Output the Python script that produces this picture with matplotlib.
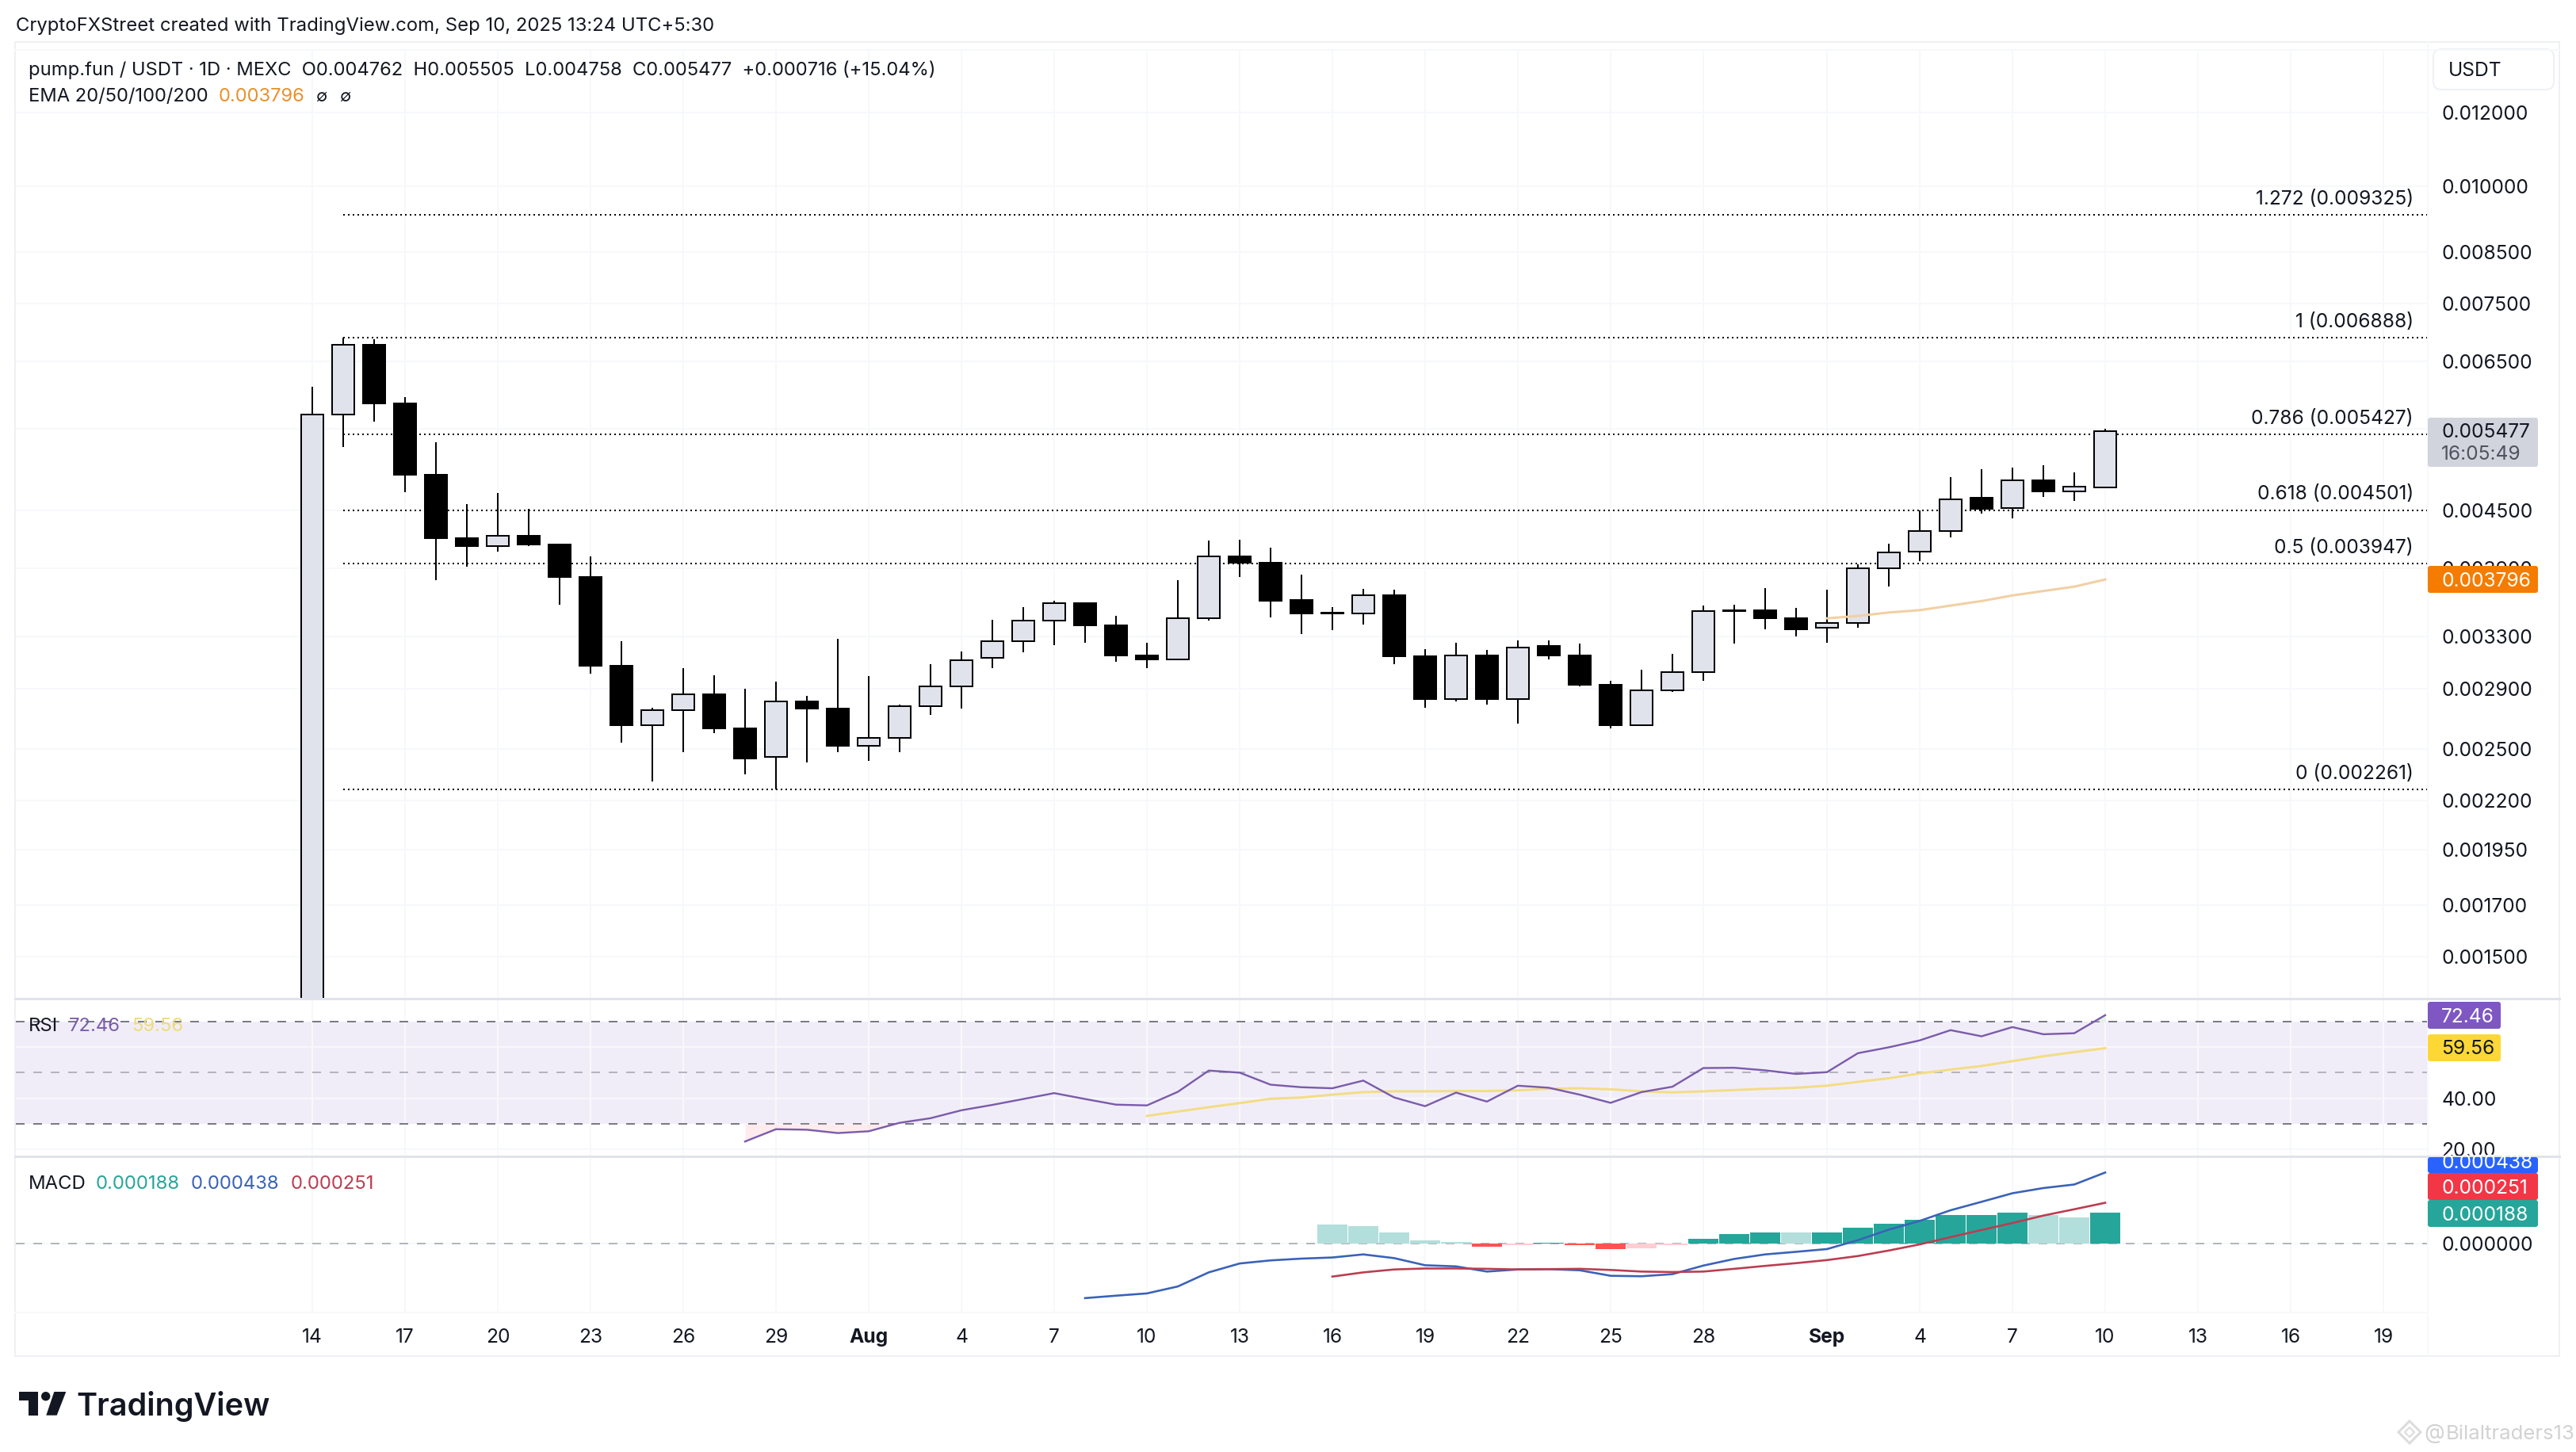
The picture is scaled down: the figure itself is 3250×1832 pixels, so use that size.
"""pump.fun / USDT daily chart with fib levels, EMA, RSI and MACD panes."""

import numpy as np
import matplotlib
matplotlib.use("Agg")
import matplotlib.pyplot as plt
from matplotlib.patches import Circle, FancyBboxPatch, Polygon, Rectangle
from matplotlib.ticker import NullLocator

W, H = 3250, 1832
plt.rcParams['font.family'] = ['Inter', 'DejaVu Sans']

# Daily candles, first one is Jul 14 (its open is far below the visible range)
OPENS = [0.00120, 0.00570, 0.00677, 0.00586, 0.00491, 0.00420, 0.00412, 0.00423, 0.00414, 0.00382,
         0.00307, 0.00265, 0.00275, 0.00286, 0.00263, 0.00245, 0.00281, 0.00276, 0.00252, 0.00257,
         0.00278, 0.00292, 0.00313, 0.00326, 0.00343, 0.00358, 0.00339, 0.00315, 0.00312, 0.00345,
         0.00402, 0.00396, 0.00361, 0.00350, 0.00349, 0.00365, 0.00314, 0.00283, 0.00315, 0.00283,
         0.00322, 0.00315, 0.00293, 0.00265, 0.00289, 0.00302, 0.00352, 0.00352, 0.00345, 0.00337,
         0.00341, 0.00390, 0.00407, 0.00428, 0.00464, 0.00453, 0.00485, 0.00472, 0.004762]
HIGHS = [0.00610, 0.006888, 0.00686, 0.00595, 0.00532, 0.00457, 0.00470, 0.00452, 0.00415, 0.00402,
         0.00326, 0.00277, 0.00305, 0.00300, 0.00290, 0.00295, 0.00285, 0.00328, 0.00299, 0.00279,
         0.00308, 0.00318, 0.00344, 0.00355, 0.00360, 0.00359, 0.00347, 0.00325, 0.00379, 0.00418,
         0.00419, 0.00411, 0.00384, 0.00355, 0.00371, 0.00370, 0.00320, 0.00325, 0.00319, 0.00327,
         0.00327, 0.00324, 0.00296, 0.00304, 0.00316, 0.00356, 0.00357, 0.00372, 0.00354, 0.00370,
         0.00394, 0.00415, 0.00450, 0.00489, 0.00498, 0.00500, 0.00503, 0.00494, 0.005505]
LOWS = [0.00110, 0.00526, 0.00560, 0.00471, 0.00379, 0.00392, 0.00407, 0.00412, 0.00357, 0.00301,
        0.00254, 0.00231, 0.00248, 0.00260, 0.00235, 0.002261, 0.00242, 0.00248, 0.00243, 0.00248,
        0.00272, 0.00276, 0.00305, 0.00317, 0.00323, 0.00325, 0.00310, 0.00305, 0.00311, 0.00343,
        0.00382, 0.00346, 0.00332, 0.00335, 0.00340, 0.00308, 0.00277, 0.00281, 0.00279, 0.00266,
        0.00312, 0.00292, 0.00263, 0.00265, 0.00288, 0.00296, 0.00324, 0.00336, 0.00330, 0.00325,
        0.00337, 0.00373, 0.00397, 0.00421, 0.00447, 0.00441, 0.00465, 0.00461, 0.004758]
CLOSES = [0.00570, 0.00677, 0.00586, 0.00491, 0.00420, 0.00412, 0.00423, 0.00414, 0.00382, 0.00307,
          0.00265, 0.00275, 0.00286, 0.00263, 0.00244, 0.00281, 0.00276, 0.00252, 0.00257, 0.00278,
          0.00292, 0.00311, 0.00326, 0.00343, 0.00358, 0.00339, 0.00315, 0.00312, 0.00345, 0.00402,
          0.00396, 0.00360, 0.00349, 0.00349, 0.00365, 0.00314, 0.00283, 0.00315, 0.00283, 0.00321,
          0.00315, 0.00293, 0.00265, 0.00289, 0.00302, 0.00351, 0.00351, 0.00345, 0.00336, 0.00341,
          0.00390, 0.00406, 0.00428, 0.00463, 0.00452, 0.00485, 0.00472, 0.00477, 0.005477]

EMA_START = 49
EMA_VALUES = [0.00345, 0.00347, 0.00350, 0.00352, 0.00356, 0.00360, 0.00365, 0.00369, 0.00373, 0.003796]

FIB_PRICES = [0.009325, 0.006888, 0.005427, 0.004501, 0.003947, 0.002261]
FIB_NAMES = ['1.272', '1', '0.786', '0.618', '0.5', '0']

PRICE_TICKS = [0.012, 0.010, 0.0085, 0.0075, 0.0065, 0.0055, 0.0045, 0.0039, 0.0033, 0.0029,
               0.0025, 0.0022, 0.00195, 0.0017, 0.0015]

RSI_START = 14
RSI_VALUES = [23.1, 27.9, 27.7, 26.4, 27.1, 30.4, 32.2, 35.3, 37.4, 39.7, 42.0, 39.7, 37.5, 37.2, 42.5,
              50.8, 50.0, 45.3, 44.3, 43.9, 46.9, 40.3, 36.9, 42.2, 38.7, 44.9, 44.1, 41.4, 38.2, 42.4,
              44.5, 51.8, 51.9, 50.9, 49.5, 50.2, 57.6, 59.9, 62.6, 66.6, 64.2, 67.8, 65.0, 65.4, 72.46]
RSI_MA_START = 27
RSI_MA_VALUES = [33.1, 34.8, 36.5, 38.1, 39.8, 40.3, 41.4, 42.4, 42.7, 42.7, 42.8, 42.8, 43.1, 43.7, 43.9,
                 43.5, 42.7, 42.3, 42.7, 43.2, 43.7, 44.1, 44.9, 46.4, 47.8, 49.7, 51.2, 52.6, 54.5,
                 56.4, 58.0, 59.56]

# MACD values in millionths
MACD_START = 25
MACD_VALUES = [-338, -323, -309, -266, -179, -124, -105, -94, -87, -68, -91, -135, -142, -174, -161, -159,
               -166, -200, -203, -190, -137, -96, -68, -52, -35, 20, 85, 139, 205, 257, 310, 342, 364, 438]
SIGNAL_START = 33
SIGNAL_VALUES = [-205, -179, -161, -155, -155, -157, -161, -159, -157, -164, -174, -177, -174, -157, -139,
                 -122, -103, -78, -44, -6, 39, 83, 126, 172, 211, 251]
HIST_START = 33
HIST_VALUES = [116, 107, 68, 18, 9, -20, -9, 4, -13, -33, -28, -13, 28, 57, 69, 68, 69, 98, 122, 146,
               175, 176, 190, 176, 163, 188]

TICK_DAYS = [0, 3, 6, 9, 12, 15, 18, 21, 24, 27, 30, 33, 36, 39, 42, 45, 49, 52, 55, 58, 61, 64, 67]
TICK_LABELS = ['14', '17', '20', '23', '26', '29', 'Aug', '4', '7', '10', '13', '16', '19', '22', '25',
               '28', 'Sep', '4', '7', '10', '13', '16', '19']

UP_FILL = '#e0e3eb'
TEXT = '#131722'
GRID = '#f7f8fb'
FRAME = '#eef0f5'
SEP = '#e0e3eb'
TEAL = '#26a69a'
LIGHT_TEAL = '#b2dfdb'
RED = '#ff5252'
LIGHT_RED = '#ffcdd2'
FS = 17.7
PX = 72 / 100  # one pixel in points at dpi=100

PANE_LEFT, PANE_RIGHT = 20, 3063
DAY0_X, DAY_W = 394, 39
XLIM = ((PANE_LEFT - DAY0_X) / DAY_W, (PANE_RIGHT - DAY0_X) / DAY_W)


def addPane(fig, top, bottom):
    """Axes placed by pixel rows, sharing the same day scale."""
    ax = fig.add_axes([PANE_LEFT / W, 1 - bottom / H, (PANE_RIGHT - PANE_LEFT) / W, (bottom - top) / H])
    ax.set_xlim(*XLIM)
    ax.yaxis.tick_right()
    ax.tick_params(axis='both', length=0, labelsize=FS, labelcolor=TEXT)
    ax.tick_params(axis='y', pad=17 * PX)
    ax.set_xticks(TICK_DAYS)
    ax.set_xticklabels([])
    ax.grid(True, color=GRID, lw=2 * PX)
    ax.set_axisbelow(True)
    for spine in ax.spines.values():
        spine.set_visible(False)
    return ax


def drawCandles(ax):
    days = np.arange(len(OPENS))
    opens, closes = np.array(OPENS), np.array(CLOSES)
    bottoms = np.minimum(opens, closes)
    tops = np.maximum(opens, closes)
    is_up = closes >= opens
    ax.vlines(days, LOWS, HIGHS, color='black', lw=2 * PX, zorder=3)
    ax.bar(days, tops - bottoms, bottom=bottoms, width=0.72, color=[UP_FILL if u else 'black' for u in is_up],
           edgecolor='black', linewidth=2 * PX, zorder=4)


def drawMain(ax):
    ax.set_yscale('log')
    # log scale calibrated on the 0.012 and 0.010 grid rows
    ax.set_ylim(0.001354, 0.0140)
    ax.yaxis.set_minor_locator(NullLocator())
    ax.set_yticks(PRICE_TICKS)
    ax.set_yticklabels([f'{p:.6f}' for p in PRICE_TICKS])
    ax.yaxis.set_minor_formatter(plt.NullFormatter())

    for name, price in zip(FIB_NAMES, FIB_PRICES):
        ax.plot([1, XLIM[1]], [price, price], color='black', lw=2 * PX, ls=(0, (1, 2)), zorder=2)
        ax.annotate(f'{name} ({price:.6f})', xy=(1, price), xycoords=ax.get_yaxis_transform(),
                    xytext=(-18 * PX, 20 * PX), textcoords='offset points', ha='right', va='center',
                    fontsize=FS, color=TEXT)

    drawCandles(ax)
    ema_days = np.arange(EMA_START, EMA_START + len(EMA_VALUES))
    ax.plot(ema_days, EMA_VALUES, color='#f2cfa3', lw=3 * PX, zorder=5)


def drawRsi(ax):
    ax.set_ylim(17.6, 78.6)
    ax.set_yticks([20, 40, 60])
    ax.set_yticklabels(['20.00', '40.00', '60.00'])
    ax.axhspan(30, 70, color='#7e57c2', alpha=0.1, lw=0, zorder=0)
    for level, col in zip([70, 50, 30], ['#787b86', '#b2b5be', '#787b86']):
        ax.axhline(level, color=col, lw=2 * PX, ls=(0, (5.5, 5.5)), zorder=1)

    rsi_days = np.arange(RSI_START, RSI_START + len(RSI_VALUES))
    rsi = np.array(RSI_VALUES)
    ax.fill_between(rsi_days, rsi, 30, where=rsi < 30, interpolate=True, color='#ffcdd2', alpha=0.4, lw=0)
    ax.fill_between(rsi_days, rsi, 70, where=rsi > 70, interpolate=True, color='#c8e6c9', alpha=0.5, lw=0)
    ma_days = np.arange(RSI_MA_START, RSI_MA_START + len(RSI_MA_VALUES))
    ax.plot(ma_days, RSI_MA_VALUES, color='#f3dd85', lw=3 * PX, zorder=3)
    ax.plot(rsi_days, rsi, color='#7b5cab', lw=2.4 * PX, zorder=4)


def drawMacd(ax):
    ax.set_ylim(-427, 528)
    ax.set_yticks([0])
    ax.set_yticklabels(['0.000000'])
    ax.axhline(0, color='#b2b5be', lw=2 * PX, ls=(0, (5.5, 5.5)), zorder=1)

    hist_days = np.arange(HIST_START, HIST_START + len(HIST_VALUES))
    hist_colors = []
    prev = np.inf
    for val in HIST_VALUES:
        if val >= 0:
            hist_colors.append(TEAL if val > prev else LIGHT_TEAL)
        else:
            hist_colors.append(RED if val < prev else LIGHT_RED)
        prev = val
    ax.bar(hist_days, HIST_VALUES, width=0.95, color=hist_colors, lw=0, zorder=2)

    macd_days = np.arange(MACD_START, MACD_START + len(MACD_VALUES))
    signal_days = np.arange(SIGNAL_START, SIGNAL_START + len(SIGNAL_VALUES))
    ax.plot(macd_days, MACD_VALUES, color='#3a62b8', lw=2.6 * PX, zorder=3)
    ax.plot(signal_days, SIGNAL_VALUES, color='#bb3d50', lw=2.6 * PX, zorder=3)

    ax.set_xticklabels(TICK_LABELS)
    ax.tick_params(axis='x', pad=20 * PX)
    for lab, txt in zip(ax.get_xticklabels(), TICK_LABELS):
        if txt in ('Aug', 'Sep'):
            lab.set_fontweight('bold')


def valueBox(page, top, bottom, right, color, label, text_color='white', text_y=None):
    page.add_patch(FancyBboxPatch((PANE_RIGHT + 1, top + 1), right - PANE_RIGHT - 3, bottom - top - 2,
                                  boxstyle='round,pad=1,rounding_size=3', fc=color, ec='none', zorder=6))
    y = (top + bottom) / 2 if text_y is None else text_y
    txt = page.text(3080, y + 2, label, color=text_color, fontsize=FS, va='center', ha='left', zorder=7)
    return txt


def drawPage(page):
    """Everything that sits outside the panes, in image pixels."""
    page.set_xlim(0, W)
    page.set_ylim(H, 0)
    page.axis('off')

    # frame
    page.add_patch(Rectangle((19, 53), 3210, 1658, fc='none', ec=FRAME, lw=2 * PX))
    page.plot([19, 3229], [63, 63], color=GRID, lw=2 * PX)
    page.plot([PANE_RIGHT, PANE_RIGHT], [53, 1711], color=GRID, lw=2 * PX)
    page.plot([19, PANE_RIGHT], [1656, 1656], color=GRID, lw=2 * PX)
    page.plot([19, 3229], [1260, 1260], color=SEP, lw=3 * PX)
    page.plot([19, 3229], [1459, 1459], color=SEP, lw=3 * PX)

    page.text(20, 33, 'CryptoFXStreet created with TradingView.com, Sep 10, 2025 13:24 UTC+5:30',
              fontsize=17.2, color=TEXT, va='center')
    page.text(36, 88, 'pump.fun / USDT · 1D · MEXC  O0.004762  H0.005505  L0.004758  C0.005477  '
              '+0.000716 (+15.04%)', fontsize=17.1, color=TEXT, va='center')
    page.text(36, 122, 'EMA 20/50/100/200', fontsize=17.1, color=TEXT, va='center')
    page.text(276, 122, '0.003796', fontsize=17.1, color='#e8912d', va='center')
    page.text(398, 122, '∅', fontsize=15, color=TEXT, va='center')
    page.text(428, 122, '∅', fontsize=15, color=TEXT, va='center')

    # USDT button
    page.add_patch(FancyBboxPatch((3076, 68), 140, 39, boxstyle='round,pad=6,rounding_size=10',
                                  fc='white', ec=FRAME, lw=2 * PX))
    page.text(3089, 89, 'USDT', fontsize=FS, color=TEXT, va='center')

    # last value boxes
    valueBox(page, 527, 589, 3203, '#d1d4dc', '0.005477', TEXT, text_y=543)
    page.text(3080, 574, '16:05:49', fontsize=FS, color='#50535e', va='center', zorder=7)
    valueBox(page, 714, 748, 3203, '#f57c00', '0.003796', 'white')
    valueBox(page, 1264, 1298, 3156, '#7e57c2', '72.46', 'white')
    valueBox(page, 1305, 1339, 3156, '#fdd835', '59.56', TEXT)
    blue = valueBox(page, 1460, 1480, 3203, '#2962ff', '0.000438', 'white', text_y=1465)
    blue.set_clip_path(Rectangle((3063, 1460), 140, 20, transform=page.transData))
    valueBox(page, 1480, 1514, 3203, '#f23645', '0.000251', 'white')
    valueBox(page, 1514, 1548, 3203, '#26a69a', '0.000188', 'white')

    # pane legends
    page.text(36, 1295, 'RSI', fontsize=FS - 0.5, color=TEXT, va='center')
    page.text(87, 1295, '72.46', fontsize=FS - 0.5, color='#7b5cab', va='center')
    page.text(166, 1295, '59.56', fontsize=FS - 0.5, color='#eddc78', va='center')
    page.text(36, 1494, 'MACD', fontsize=FS - 0.5, color=TEXT, va='center')
    page.text(121, 1494, '0.000188', fontsize=FS - 0.5, color=TEAL, va='center')
    page.text(241, 1494, '0.000438', fontsize=FS - 0.5, color='#3a62b8', va='center')
    page.text(367, 1494, '0.000251', fontsize=FS - 0.5, color='#bb3d50', va='center')

    # TradingView logo
    page.add_patch(Polygon([(24, 1756), (48.3, 1756), (48.3, 1785.7), (36, 1785.7), (36, 1767.3), (24, 1767.3)],
                           fc=TEXT, ec='none'))
    page.add_patch(Circle((57.7, 1761.7), 5.7, fc=TEXT, ec='none'))
    page.add_patch(Polygon([(68.3, 1756), (83.3, 1756), (71.7, 1785.7), (58.3, 1785.7)], fc=TEXT, ec='none'))
    page.text(96, 1785.7, 'TradingView', fontsize=28.5, fontweight='semibold', color=TEXT, va='baseline')

    # watermark
    page.add_patch(Polygon([(3040, 1793), (3054, 1807), (3040, 1821), (3026, 1807)], fc='none', ec='#dcdcdc',
                           lw=3 * PX))
    page.add_patch(Polygon([(3040, 1801), (3046, 1807), (3040, 1813), (3034, 1807)], fc='none', ec='#dcdcdc',
                           lw=2 * PX))
    page.text(3058, 1808, '@', fontsize=19, color='#d2d2d2', va='center')
    page.text(3086, 1809, 'Bilaltraders13', fontsize=18.5, color='#d2d2d2', va='center')


def main():
    fig = plt.figure(figsize=(W / 100, H / 100), dpi=100, facecolor='white')
    ax_main = addPane(fig, 63, 1259)
    ax_rsi = addPane(fig, 1261, 1458)
    ax_macd = addPane(fig, 1461, 1656)
    drawMain(ax_main)
    drawRsi(ax_rsi)
    drawMacd(ax_macd)

    page = fig.add_axes([0, 0, 1, 1], zorder=10)
    page.patch.set_alpha(0)
    drawPage(page)

    fig.savefig('out.png', dpi=100)
    plt.close(fig)


if __name__ == "__main__":
    main()
